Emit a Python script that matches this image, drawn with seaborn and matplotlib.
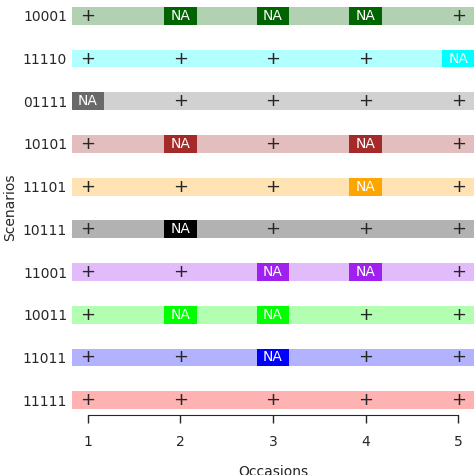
import matplotlib
matplotlib.use('Agg')
import matplotlib.pyplot as plt
import seaborn as sns

# scenarios top to bottom; '1' = observed (+), '0' = missing (NA)
scenarios = ['10001', '11110', '01111', '10101', '11101',
             '10111', '11001', '10011', '11011', '11111']
colors = ['#006400', '#00FFFF', '#696969', '#A52A2A', '#FFA500',
          '#000000', '#A020F0', '#00FF00', '#0000FF', '#FF0000']
occasions = [1, 2, 3, 4, 5]

sns.set_style('white')
plt.rcParams['font.family'] = ['DejaVu Sans']

fig = plt.figure(figsize=(4.74, 4.75), dpi=100)
ax = fig.add_axes([0.152, 0.126, 0.848, 0.874])

n = len(scenarios)
for i, (sc, col) in enumerate(zip(scenarios, colors)):
    y = n - 1 - i
    ax.barh(y, 4.34, left=0.83, height=0.42, color=col, alpha=0.3, linewidth=0)
    for occ, ch in zip(occasions, sc):
        if ch == '1':
            ax.text(occ, y, '+', ha='center', va='center', fontsize=13)
        else:
            ax.barh(y, 0.35, left=occ - 0.175, height=0.42, color=col, linewidth=0)
            ax.text(occ, y, 'NA', ha='center', va='center', fontsize=10, color='white')

ax.set_xlim(0.83, 5.17)
ax.set_ylim(-0.35, 9.37)
ax.set_yticks(range(n))
ax.set_yticklabels(scenarios[::-1], fontsize=10)
ax.set_xticks(occasions)
ax.set_xticklabels([str(o) for o in occasions], fontsize=10)
for s in ['top', 'right', 'left']:
    ax.spines[s].set_visible(False)
ax.spines['bottom'].set_bounds(1, 5)
ax.tick_params(axis='x', length=6, width=1, direction='out', bottom=True, pad=8)
ax.tick_params(axis='y', length=0)
ax.set_xlabel('Occasions', fontsize=10, labelpad=12)
ax.set_ylabel('Scenarios', fontsize=10)

fig.savefig('out.png', dpi=100)
